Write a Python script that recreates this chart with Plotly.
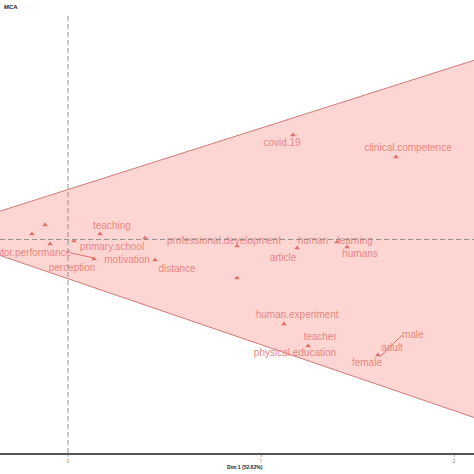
import plotly.graph_objects as go

# ---- data (Dim 1, Dim 2 coordinates) ----
point_dim1 = [-0.119, -0.187, -0.093, 0.031, 0.166, 0.399, 0.135, 0.451, 0.876,
              1.187, 1.394, 1.446, 0.876, 1.166, 1.699, 1.119, 1.244, 1.606]
point_dim2 = [0.075, 0.028, -0.023, -0.008, 0.028, 0.008, -0.101, -0.106, -0.034,
              -0.044, -0.013, -0.039, -0.199, 0.541, 0.427, -0.438, -0.552, -0.598]

label_text = ["teaching", "primary.school", "perception", "motivation", "distance",
              "professional.development", "human", "article", "learning", "humans",
              "covid.19", "clinical.competence", "human.experiment", "teacher",
              "physical.education", "adult", "female"]
label_dim1 = [0.228, 0.228, 0.021, 0.306, 0.565, 0.808, 1.269, 1.114, 1.487, 1.513,
              1.109, 1.762, 1.187, 1.306, 1.176, 1.679, 1.549]
label_dim2 = [0.065, -0.039, -0.148, -0.111, -0.153, -0.008, -0.013, -0.096, -0.008,
              -0.080, 0.495, 0.469, -0.396, -0.510, -0.593, -0.567, -0.640]

# labels with connector segments (label anchor -> point)
seg_text = ["motor.performance", "male"]
seg_label_dim1 = [0.016, 1.730]
seg_label_dim2 = [-0.070, -0.496]
seg_point_dim1 = [0.135, 1.618]
seg_point_dim2 = [-0.096, -0.606]
seg_anchor = ["middle left", "middle right"]

hull_dim1 = [-0.70, 2.80, 2.80, -0.70]
hull_dim2 = [0.036, 1.15, -1.16, 0.036]

x_title = "Dim 1 (52.62%)"
chart_title = "MCA"
x_ticks = [0, 1, 2]

TXT = "#EA8782"
FONT = "Liberation Sans, Arial"

fig = go.Figure()

fig.add_trace(go.Scatter(
    x=hull_dim1, y=hull_dim2, mode="lines", fill="toself",
    fillcolor="rgba(248,118,109,0.30)",
    line=dict(color="rgba(205,110,105,0.9)", width=1),
    hoverinfo="skip", showlegend=False))

for i in range(len(seg_text)):
    fig.add_trace(go.Scatter(
        x=[seg_label_dim1[i], seg_point_dim1[i]],
        y=[seg_label_dim2[i], seg_point_dim2[i]],
        mode="lines", line=dict(color="#E36F6A", width=1),
        hoverinfo="skip", showlegend=False))

fig.add_trace(go.Scatter(
    x=point_dim1, y=point_dim2, mode="markers",
    marker=dict(symbol="triangle-up", size=5, color="#E2706B"),
    showlegend=False))

fig.add_trace(go.Scatter(
    x=label_dim1, y=label_dim2, mode="text", text=label_text,
    textposition="middle center",
    textfont=dict(family=FONT, size=10, color=TXT),
    showlegend=False))

for i in range(len(seg_text)):
    fig.add_trace(go.Scatter(
        x=[seg_label_dim1[i]], y=[seg_label_dim2[i]], mode="text",
        text=[seg_text[i]], textposition=seg_anchor[i],
        textfont=dict(family=FONT, size=10, color=TXT),
        showlegend=False))

x_range = [-0.3523, 2.1036]
y_range = [-1.106, 1.168]

fig.add_shape(type="line", x0=0, x1=0, y0=y_range[0], y1=y_range[1],
              line=dict(color="#8a8a8a", width=0.9, dash="5px,3px"))
fig.add_shape(type="line", x0=x_range[0], x1=x_range[1], y0=0, y1=0,
              line=dict(color="#8a8a8a", width=0.9, dash="5px,3px"))

fig.add_annotation(text="<b>" + chart_title + "</b>", xref="paper", yref="paper",
                   x=0.004, y=1.0, yshift=2, xanchor="left", yanchor="bottom",
                   showarrow=False, font=dict(family=FONT, size=6, color="#222"))
fig.add_annotation(text="<b>" + x_title + "</b>", xref="paper", yref="paper",
                   x=245 / 474, y=0, yshift=-9, xanchor="center", yanchor="top",
                   showarrow=False, font=dict(family=FONT, size=5, color="#222"))

fig.update_layout(
    width=474, height=474,
    margin=dict(l=0, r=0, t=14, b=21),
    paper_bgcolor="white", plot_bgcolor="white",
    xaxis=dict(range=x_range, showgrid=False, zeroline=False, showline=True,
               linecolor="#555555", linewidth=1.5, tickvals=x_ticks,
               ticks="outside", ticklen=2, tickcolor="#aaaaaa",
               tickfont=dict(size=5, color="#777777")),
    yaxis=dict(range=y_range, visible=False, showgrid=False, zeroline=False),
)

fig.write_html("out.html", config={"displayModeBar": False},
               post_script="document.body.style.margin='0';document.body.style.overflow='hidden';")
